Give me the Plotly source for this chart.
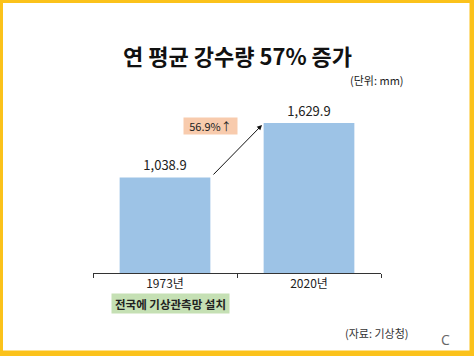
import plotly.graph_objects as go

categories = ["1973년", "2020년"]
values = [1038.9, 1629.9]
value_labels = ["1,038.9", "1,629.9"]

W, H = 474, 356
L, R, T, B = 93, 93, 89, 83
PW, PH = W - L - R, H - T - B

def px(x):
    return (x - L) / PW

def py(y):
    return (H - B - y) / PH

FONT = "Noto Sans CJK KR"
YEL = "#FBC21B"

fig = go.Figure()
fig.add_trace(go.Bar(
    x=categories, y=values, width=0.63,
    marker=dict(color="#9DC3E6", line=dict(width=0)),
    text=value_labels, textposition="outside",
    textfont=dict(family=FONT, size=13, color="#222"),
    cliponaxis=False,
))

fig.update_layout(
    width=W, height=H,
    margin=dict(l=L, r=R, t=T, b=B),
    paper_bgcolor="white", plot_bgcolor="white",
    showlegend=False,
    font=dict(family=FONT),
    xaxis=dict(
        showline=True, linecolor="#333", linewidth=1,
        ticks="outside", tickson="boundaries", ticklen=4, tickcolor="#333",
        tickfont=dict(family=FONT, size=12, color="#222"),
        showgrid=False, zeroline=False, range=[-0.5, 1.5],
    ),
    yaxis=dict(visible=False, range=[0, 2000], showgrid=False, zeroline=False),
)

shapes = []
for (x0, y0, x1, y1) in [(0, 0, W, 3), (0, 0, 3, H), (469.5, 0, W, H), (0, 350.5, W, H)]:
    shapes.append(dict(type="rect", xref="paper", yref="paper",
                       x0=px(x0), x1=px(x1), y0=py(y1), y1=py(y0),
                       fillcolor=YEL, line=dict(width=0), layer="above"))
fig.update_layout(shapes=shapes)

ann = []
ann.append(dict(x=px(237), y=py(55), xref="paper", yref="paper", showarrow=False,
                text="<b>연 평균 강수량 57% 증가</b>",
                font=dict(family=FONT, size=22, color="#111"),
                xanchor="center", yanchor="middle"))
ann.append(dict(x=px(377), y=py(80), xref="paper", yref="paper", showarrow=False,
                text="(단위: mm)", font=dict(family=FONT, size=11, color="#222"),
                xanchor="center", yanchor="middle"))
ann.append(dict(x=px(262), y=py(125), xref="paper", yref="paper", showarrow=True,
                ax=-50, ay=51, text="", arrowhead=2, arrowsize=1, arrowwidth=1,
                arrowcolor="#111"))
ann.append(dict(x=px(210), y=py(125.5), xref="paper", yref="paper", showarrow=False,
                text="56.9%↑", font=dict(family=FONT, size=11, color="#222"),
                bgcolor="#F8CBAD", borderpad=2, width=49, height=12,
                xanchor="center", yanchor="middle"))
ann.append(dict(x=px(170.5), y=py(303.5), xref="paper", yref="paper", showarrow=False,
                text="<b>전국에 기상관측망 설치</b>",
                font=dict(family=FONT, size=11.5, color="#222"),
                bgcolor="#C5E0B4", borderpad=2, width=113, height=15,
                xanchor="center", yanchor="middle"))
ann.append(dict(x=px(377), y=py(333), xref="paper", yref="paper", showarrow=False,
                text="(자료: 기상청)", font=dict(family=FONT, size=11, color="#333"),
                xanchor="center", yanchor="middle"))
ann.append(dict(x=px(445), y=py(339), xref="paper", yref="paper", showarrow=False,
                text="C", font=dict(family="Open Sans", size=14, color="#666"),
                xanchor="center", yanchor="middle"))
fig.update_layout(annotations=ann)

fig.write_html("out.html", config={"displayModeBar": False},
               post_script="document.body.style.margin='0';document.body.style.overflow='hidden';")
